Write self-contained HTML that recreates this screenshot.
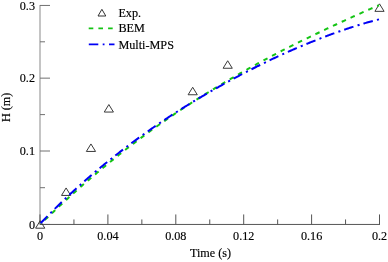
<!DOCTYPE html>
<html><head><meta charset="utf-8"><style>
html,body{margin:0;padding:0;background:#fff;}
body{width:388px;height:262px;overflow:hidden;}
svg{display:block;}
text{font-family:"Liberation Serif","Times New Roman",serif;font-size:12.2px;fill:#000;stroke:#000;stroke-width:0.15px;}
</style></head><body>
<svg width="388" height="262" viewBox="0 0 388 262">
<rect width="388" height="262" fill="#fff"/>
<line x1="40" y1="4.95" x2="40" y2="224.45" stroke="#c4c4c4" stroke-width="2"/>
<g stroke="#707070" stroke-width="1">
<line x1="40.0" y1="224.45" x2="50.0" y2="224.45" />
<line x1="40.0" y1="187.70" x2="45.0" y2="187.70" />
<line x1="40.0" y1="151.00" x2="50.0" y2="151.00" />
<line x1="40.0" y1="114.60" x2="45.0" y2="114.60" />
<line x1="40.0" y1="78.15" x2="50.0" y2="78.15" />
<line x1="40.0" y1="41.80" x2="45.0" y2="41.80" />
<line x1="40.0" y1="5.45" x2="50.0" y2="5.45" />
</g>
<line x1="40" y1="224.45" x2="380" y2="224.45" stroke="#555" stroke-width="1"/>
<g stroke="#555" stroke-width="1">
<line x1="40.00" y1="224.45" x2="40.00" y2="214.45" />
<line x1="73.95" y1="224.45" x2="73.95" y2="219.45" />
<line x1="107.90" y1="224.45" x2="107.90" y2="214.45" />
<line x1="141.85" y1="224.45" x2="141.85" y2="219.45" />
<line x1="175.80" y1="224.45" x2="175.80" y2="214.45" />
<line x1="209.75" y1="224.45" x2="209.75" y2="219.45" />
<line x1="243.70" y1="224.45" x2="243.70" y2="214.45" />
<line x1="277.65" y1="224.45" x2="277.65" y2="219.45" />
<line x1="311.60" y1="224.45" x2="311.60" y2="214.45" />
<line x1="345.55" y1="224.45" x2="345.55" y2="219.45" />
<line x1="379.50" y1="224.45" x2="379.50" y2="214.45" />
</g>
<g>
<text x="40.00" y="240.4" text-anchor="middle">0</text>
<text x="107.90" y="240.4" text-anchor="middle">0.04</text>
<text x="175.80" y="240.4" text-anchor="middle">0.08</text>
<text x="243.70" y="240.4" text-anchor="middle">0.12</text>
<text x="311.60" y="240.4" text-anchor="middle">0.16</text>
<text x="379.50" y="240.4" text-anchor="middle">0.2</text>
<text x="35" y="228.65" text-anchor="end">0</text>
<text x="35" y="155.20" text-anchor="end">0.1</text>
<text x="35" y="82.35" text-anchor="end">0.2</text>
<text x="35" y="9.65" text-anchor="end">0.3</text>
<text x="210.5" y="257" text-anchor="middle">Time (s)</text>
<text transform="translate(10.2,107.4) rotate(-90)" text-anchor="middle">H (m)</text>
</g>
<g fill="none" stroke="#3a3a3a" stroke-width="1">
<path d="M35.60,228.20 L40.20,220.70 L44.80,228.20 Z" />
<path d="M61.50,195.45 L66.10,187.95 L70.70,195.45 Z" />
<path d="M86.35,151.45 L90.95,143.95 L95.55,151.45 Z" />
<path d="M104.25,112.05 L108.85,104.55 L113.45,112.05 Z" />
<path d="M188.10,94.75 L192.70,87.25 L197.30,94.75 Z" />
<path d="M223.10,68.25 L227.70,60.75 L232.30,68.25 Z" />
<path d="M374.90,11.35 L379.50,3.85 L384.10,11.35 Z" />
</g>
<path d="M41.0,223.75 L42.0,222.78 L43.0,221.80 L44.0,220.82 L45.0,219.85 L46.0,218.89 L47.0,217.92 L48.0,216.96 L49.0,216.00 L50.0,215.04 L51.0,214.08 L52.0,213.13 L53.0,212.18 L54.0,211.23 L55.0,210.28 L56.0,209.34 L57.0,208.40 L58.0,207.46 L59.0,206.53 L60.0,205.60 L61.0,204.67 L62.0,203.74 L63.0,202.81 L64.0,201.89 L65.0,200.97 L66.0,200.05 L67.0,199.14 L68.0,198.23 L69.0,197.32 L70.0,196.41 L71.0,195.50 L72.0,194.60 L73.0,193.70 L74.0,192.80 L75.0,191.91 L76.0,191.01 L77.0,190.12 L78.0,189.23 L79.0,188.35 L80.0,187.47 L81.0,186.58 L82.0,185.71 L83.0,184.83 L84.0,183.96 L85.0,183.08 L86.0,182.22 L87.0,181.35 L88.0,180.48 L89.0,179.62 L90.0,178.76 L91.0,177.91 L92.0,177.05 L93.0,176.20 L94.0,175.35 L95.0,174.50 L96.0,173.66 L97.0,172.81 L98.0,171.97 L99.0,171.13 L100.0,170.30 L101.0,169.46 L102.0,168.63 L103.0,167.80 L104.0,166.97 L105.0,166.15 L106.0,165.33 L107.0,164.50 L108.0,163.69 L109.0,162.87 L110.0,162.06 L111.0,161.25 L112.0,160.44 L113.0,159.63 L114.0,158.82 L115.0,158.02 L116.0,157.22 L117.0,156.42 L118.0,155.63 L119.0,154.83 L120.0,154.04 L121.0,153.25 L122.0,152.46 L123.0,151.68 L124.0,150.89 L125.0,150.11 L126.0,149.33 L127.0,148.56 L128.0,147.78 L129.0,147.01 L130.0,146.24 L131.0,145.47 L132.0,144.71 L133.0,143.94 L134.0,143.18 L135.0,142.42 L136.0,141.66 L137.0,140.91 L138.0,140.15 L139.0,139.40 L140.0,138.65 L141.0,137.90 L142.0,137.16 L143.0,136.41 L144.0,135.67 L145.0,134.93 L146.0,134.20 L147.0,133.46 L148.0,132.73 L149.0,132.00 L150.0,131.27 L151.0,130.54 L152.0,129.81 L153.0,129.09 L154.0,128.37 L155.0,127.65 L156.0,126.93 L157.0,126.22 L158.0,125.50 L159.0,124.79 L160.0,124.08 L161.0,123.37 L162.0,122.67 L163.0,121.96 L164.0,121.26 L165.0,120.56 L166.0,119.86 L167.0,119.17 L168.0,118.47 L169.0,117.78 L170.0,117.09 L171.0,116.41 L172.0,115.73 L173.0,115.05 L174.0,114.38 L175.0,113.70 L176.0,113.03 L177.0,112.36 L178.0,111.70 L179.0,111.03 L180.0,110.36 L181.0,109.70 L182.0,109.04 L183.0,108.38 L184.0,107.73 L185.0,107.07 L186.0,106.42 L187.0,105.77 L188.0,105.12 L189.0,104.47 L190.0,103.82 L191.0,103.18 L192.0,102.53 L193.0,101.89 L194.0,101.25 L195.0,100.62 L196.0,99.98 L197.0,99.35 L198.0,98.71 L199.0,98.08 L200.0,97.45 L201.0,96.83 L202.0,96.20 L203.0,95.58 L204.0,94.95 L205.0,94.33 L206.0,93.71 L207.0,93.10 L208.0,92.48 L209.0,91.87 L210.0,91.25 L211.0,90.64 L212.0,90.03 L213.0,89.43 L214.0,88.82 L215.0,88.22 L216.0,87.61 L217.0,87.01 L218.0,86.41 L219.0,85.81 L220.0,85.22 L221.0,84.62 L222.0,84.02 L223.0,83.42 L224.0,82.82 L225.0,82.23 L226.0,81.64 L227.0,81.04 L228.0,80.45 L229.0,79.87 L230.0,79.28 L231.0,78.69 L232.0,78.11 L233.0,77.53 L234.0,76.95 L235.0,76.37 L236.0,75.79 L237.0,75.21 L238.0,74.64 L239.0,74.06 L240.0,73.49 L241.0,72.92 L242.0,72.35 L243.0,71.78 L244.0,71.22 L245.0,70.65 L246.0,70.09 L247.0,69.53 L248.0,68.97 L249.0,68.41 L250.0,67.85 L251.0,67.29 L252.0,66.74 L253.0,66.18 L254.0,65.63 L255.0,65.08 L256.0,64.53 L257.0,63.98 L258.0,63.44 L259.0,62.89 L260.0,62.35 L261.0,61.80 L262.0,61.26 L263.0,60.72 L264.0,60.18 L265.0,59.65 L266.0,59.11 L267.0,58.58 L268.0,58.04 L269.0,57.51 L270.0,56.98 L271.0,56.45 L272.0,55.92 L273.0,55.39 L274.0,54.87 L275.0,54.34 L276.0,53.82 L277.0,53.30 L278.0,52.79 L279.0,52.27 L280.0,51.75 L281.0,51.24 L282.0,50.73 L283.0,50.22 L284.0,49.71 L285.0,49.20 L286.0,48.69 L287.0,48.18 L288.0,47.68 L289.0,47.17 L290.0,46.67 L291.0,46.17 L292.0,45.67 L293.0,45.17 L294.0,44.67 L295.0,44.17 L296.0,43.67 L297.0,43.18 L298.0,42.68 L299.0,42.19 L300.0,41.70 L301.0,41.21 L302.0,40.72 L303.0,40.23 L304.0,39.74 L305.0,39.26 L306.0,38.77 L307.0,38.29 L308.0,37.80 L309.0,37.32 L310.0,36.84 L311.0,36.36 L312.0,35.88 L313.0,35.40 L314.0,34.92 L315.0,34.45 L316.0,33.97 L317.0,33.48 L318.0,33.00 L319.0,32.52 L320.0,32.04 L321.0,31.56 L322.0,31.09 L323.0,30.61 L324.0,30.14 L325.0,29.66 L326.0,29.19 L327.0,28.71 L328.0,28.24 L329.0,27.77 L330.0,27.30 L331.0,26.83 L332.0,26.37 L333.0,25.90 L334.0,25.43 L335.0,24.97 L336.0,24.50 L337.0,24.04 L338.0,23.58 L339.0,23.12 L340.0,22.66 L341.0,22.20 L342.0,21.74 L343.0,21.28 L344.0,20.82 L345.0,20.37 L346.0,19.90 L347.0,19.45 L348.0,18.99 L349.0,18.53 L350.0,18.07 L351.0,17.62 L352.0,17.16 L353.0,16.71 L354.0,16.25 L355.0,15.80 L356.0,15.35 L357.0,14.90 L358.0,14.45 L359.0,14.00 L360.0,13.55 L361.0,13.10 L362.0,12.65 L363.0,12.20 L364.0,11.76 L365.0,11.31 L366.0,10.87 L367.0,10.42 L368.0,9.98 L369.0,9.54 L370.0,9.09 L371.0,8.66 L372.0,8.23 L373.0,7.80 L374.0,7.37 L375.0,6.94 L376.0,6.51 L377.0,6.08 L378.0,5.65 L379.0,5.22" fill="none" stroke="#14c414" stroke-width="2" stroke-dasharray="4.6 5.1" stroke-dashoffset="4.37"/>
<path d="M40.0,224.45 L41.0,222.83 L42.0,221.79 L43.0,220.75 L44.0,219.72 L45.0,218.69 L46.0,217.67 L47.0,216.64 L48.0,215.63 L49.0,214.62 L50.0,213.61 L51.0,212.60 L52.0,211.60 L53.0,210.61 L54.0,209.62 L55.0,208.63 L56.0,207.65 L57.0,206.67 L58.0,205.69 L59.0,204.72 L60.0,203.75 L61.0,202.78 L62.0,201.82 L63.0,200.87 L64.0,199.91 L65.0,198.96 L66.0,198.02 L67.0,197.08 L68.0,196.14 L69.0,195.20 L70.0,194.27 L71.0,193.35 L72.0,192.42 L73.0,191.50 L74.0,190.58 L75.0,189.67 L76.0,188.76 L77.0,187.86 L78.0,186.95 L79.0,186.05 L80.0,185.16 L81.0,184.26 L82.0,183.38 L83.0,182.49 L84.0,181.61 L85.0,180.73 L86.0,179.85 L87.0,178.98 L88.0,178.11 L89.0,177.24 L90.0,176.38 L91.0,175.52 L92.0,174.66 L93.0,173.81 L94.0,172.96 L95.0,172.11 L96.0,171.27 L97.0,170.43 L98.0,169.59 L99.0,168.76 L100.0,167.92 L101.0,167.09 L102.0,166.27 L103.0,165.45 L104.0,164.63 L105.0,163.81 L106.0,162.99 L107.0,162.18 L108.0,161.38 L109.0,160.57 L110.0,159.77 L111.0,158.97 L112.0,158.17 L113.0,157.38 L114.0,156.58 L115.0,155.80 L116.0,155.01 L117.0,154.23 L118.0,153.45 L119.0,152.67 L120.0,151.89 L121.0,151.12 L122.0,150.35 L123.0,149.58 L124.0,148.82 L125.0,148.06 L126.0,147.30 L127.0,146.54 L128.0,145.79 L129.0,145.04 L130.0,144.29 L131.0,143.54 L132.0,142.80 L133.0,142.05 L134.0,141.31 L135.0,140.58 L136.0,139.84 L137.0,139.11 L138.0,138.38 L139.0,137.66 L140.0,136.93 L141.0,136.21 L142.0,135.49 L143.0,134.77 L144.0,134.06 L145.0,133.34 L146.0,132.63 L147.0,131.92 L148.0,131.22 L149.0,130.51 L150.0,129.81 L151.0,129.11 L152.0,128.42 L153.0,127.72 L154.0,127.03 L155.0,126.34 L156.0,125.65 L157.0,124.96 L158.0,124.28 L159.0,123.60 L160.0,122.92 L161.0,122.24 L162.0,121.57 L163.0,120.89 L164.0,120.22 L165.0,119.55 L166.0,118.89 L167.0,118.22 L168.0,117.56 L169.0,116.90 L170.0,116.24 L171.0,115.59 L172.0,114.95 L173.0,114.30 L174.0,113.66 L175.0,113.02 L176.0,112.38 L177.0,111.74 L178.0,111.11 L179.0,110.48 L180.0,109.85 L181.0,109.22 L182.0,108.59 L183.0,107.97 L184.0,107.34 L185.0,106.72 L186.0,106.10 L187.0,105.49 L188.0,104.87 L189.0,104.26 L190.0,103.65 L191.0,103.04 L192.0,102.43 L193.0,101.82 L194.0,101.22 L195.0,100.62 L196.0,100.02 L197.0,99.42 L198.0,98.82 L199.0,98.23 L200.0,97.63 L201.0,97.04 L202.0,96.45 L203.0,95.87 L204.0,95.28 L205.0,94.70 L206.0,94.12 L207.0,93.53 L208.0,92.96 L209.0,92.38 L210.0,91.80 L211.0,91.23 L212.0,90.66 L213.0,90.09 L214.0,89.52 L215.0,88.96 L216.0,88.39 L217.0,87.83 L218.0,87.27 L219.0,86.71 L220.0,86.15 L221.0,85.59 L222.0,85.03 L223.0,84.47 L224.0,83.91 L225.0,83.36 L226.0,82.80 L227.0,82.25 L228.0,81.70 L229.0,81.15 L230.0,80.61 L231.0,80.06 L232.0,79.52 L233.0,78.98 L234.0,78.44 L235.0,77.90 L236.0,77.36 L237.0,76.83 L238.0,76.29 L239.0,75.76 L240.0,75.23 L241.0,74.70 L242.0,74.18 L243.0,73.65 L244.0,73.13 L245.0,72.61 L246.0,72.09 L247.0,71.57 L248.0,71.06 L249.0,70.54 L250.0,70.03 L251.0,69.52 L252.0,69.01 L253.0,68.50 L254.0,67.99 L255.0,67.49 L256.0,66.99 L257.0,66.48 L258.0,65.99 L259.0,65.49 L260.0,64.99 L261.0,64.50 L262.0,64.01 L263.0,63.51 L264.0,63.03 L265.0,62.54 L266.0,62.05 L267.0,61.57 L268.0,61.09 L269.0,60.61 L270.0,60.13 L271.0,59.65 L272.0,59.17 L273.0,58.70 L274.0,58.23 L275.0,57.76 L276.0,57.29 L277.0,56.83 L278.0,56.37 L279.0,55.91 L280.0,55.45 L281.0,54.99 L282.0,54.54 L283.0,54.08 L284.0,53.63 L285.0,53.18 L286.0,52.74 L287.0,52.29 L288.0,51.85 L289.0,51.40 L290.0,50.96 L291.0,50.53 L292.0,50.09 L293.0,49.65 L294.0,49.22 L295.0,48.79 L296.0,48.36 L297.0,47.93 L298.0,47.51 L299.0,47.08 L300.0,46.66 L301.0,46.24 L302.0,45.82 L303.0,45.41 L304.0,44.99 L305.0,44.58 L306.0,44.17 L307.0,43.76 L308.0,43.35 L309.0,42.95 L310.0,42.54 L311.0,42.14 L312.0,41.74 L313.0,41.35 L314.0,40.95 L315.0,40.56 L316.0,40.16 L317.0,39.76 L318.0,39.37 L319.0,38.97 L320.0,38.58 L321.0,38.19 L322.0,37.81 L323.0,37.42 L324.0,37.04 L325.0,36.66 L326.0,36.28 L327.0,35.90 L328.0,35.53 L329.0,35.15 L330.0,34.78 L331.0,34.41 L332.0,34.05 L333.0,33.68 L334.0,33.32 L335.0,32.96 L336.0,32.60 L337.0,32.25 L338.0,31.90 L339.0,31.54 L340.0,31.20 L341.0,30.85 L342.0,30.51 L343.0,30.16 L344.0,29.82 L345.0,29.49 L346.0,29.15 L347.0,28.81 L348.0,28.48 L349.0,28.14 L350.0,27.81 L351.0,27.48 L352.0,27.16 L353.0,26.84 L354.0,26.52 L355.0,26.20 L356.0,25.88 L357.0,25.57 L358.0,25.26 L359.0,24.95 L360.0,24.64 L361.0,24.34 L362.0,24.04 L363.0,23.74 L364.0,23.44 L365.0,23.15 L366.0,22.86 L367.0,22.57 L368.0,22.29 L369.0,22.01 L370.0,21.73 L371.0,21.46 L372.0,21.19 L373.0,20.93 L374.0,20.66 L375.0,20.41 L376.0,20.15 L377.0,19.90 L378.0,19.65 L379.0,19.40" fill="none" stroke="#0000f5" stroke-width="2" stroke-dasharray="9.7 4.3 2.1 4.08" stroke-dashoffset="-1.35"/>

<g>
<path d="M98,16 L101.9,9.3 L105.8,16 Z" fill="none" stroke="#333" stroke-width="1"/>
<text x="118.4" y="17">Exp.</text>
<line x1="88.7" y1="28.4" x2="113" y2="28.4" stroke="#14c414" stroke-width="1.6" stroke-dasharray="4.6 5.1"/>
<text x="118.4" y="32.3">BEM</text>
<line x1="88.8" y1="44.4" x2="114.5" y2="44.4" stroke="#0000f5" stroke-width="1.6" stroke-dasharray="9.5 4.4 1.8 4.5"/>
<text x="118.4" y="48.5">Multi-MPS</text>
</g>
</svg>
</body></html>
